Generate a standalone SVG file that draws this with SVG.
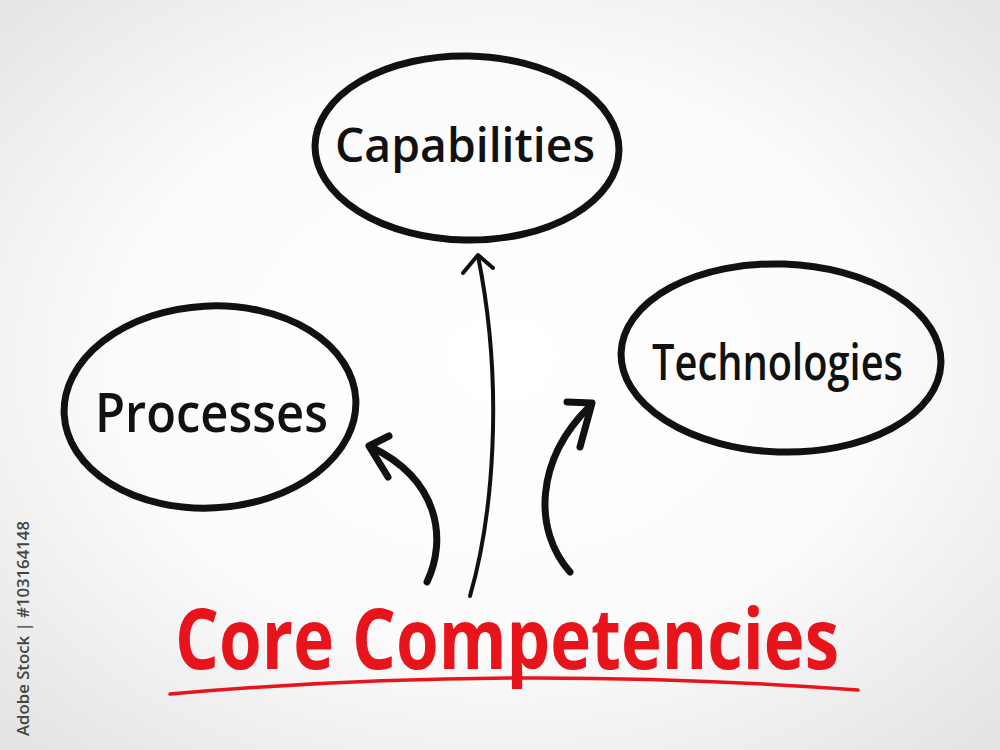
<svg xmlns="http://www.w3.org/2000/svg" width="1000" height="750" viewBox="0 0 1000 750">
  <defs>
    <radialGradient id="bg" cx="50%" cy="48%" r="70%">
      <stop offset="0" stop-color="#ffffff"/>
      <stop offset="0.55" stop-color="#fbfbfb"/>
      <stop offset="1" stop-color="#e4e4e4"/>
    </radialGradient>
  </defs>
  <style>
    .oval { fill: none; stroke: #111; stroke-width: 7; }
    .lbl { font-family: "Open Sans", "Liberation Sans", sans-serif; font-weight: 600; fill: #111; }
    .arr { fill: none; stroke: #111; stroke-linecap: round; stroke-linejoin: round; }
    .title { font-family: "Open Sans", "Liberation Sans", sans-serif; font-weight: 700; fill: #e8141c; }
  </style>
  <rect width="1000" height="750" fill="url(#bg)"/>

  <g id="credit">
    <text transform="translate(29,736) rotate(-90)" font-family="Open Sans, Liberation Sans, sans-serif" font-weight="600" font-size="17" fill="#444" textLength="215" lengthAdjust="spacingAndGlyphs">Adobe Stock | #103164148</text>
  </g>

  <g id="capabilities">
    <ellipse class="oval" cx="467" cy="148" rx="152" ry="92" transform="rotate(1 467 148)"/>
    <text class="lbl" x="335" y="162" font-size="47" textLength="260" lengthAdjust="spacingAndGlyphs">Capabilities</text>
  </g>

  <g id="processes">
    <ellipse class="oval" cx="210" cy="407" rx="146" ry="101" transform="rotate(-3 210 407)"/>
    <text class="lbl" x="95" y="432" font-size="54" textLength="233" lengthAdjust="spacingAndGlyphs">Processes</text>
  </g>

  <g id="technologies">
    <ellipse class="oval" cx="781" cy="358" rx="160" ry="94" transform="rotate(2 781 358)"/>
    <text class="lbl" x="652" y="380" font-size="50" textLength="251" lengthAdjust="spacingAndGlyphs">Technologies</text>
  </g>

  <g id="core">
    <text class="title" x="175" y="669" font-size="84" textLength="664" lengthAdjust="spacingAndGlyphs">Core Competencies</text>
    <path d="M170 694 Q510 664 858 690" fill="none" stroke="#e8141c" stroke-width="3.5" stroke-linecap="round"/>
  </g>

  <g id="connectors">
    <path class="arr" stroke-width="4" d="M470 596 C492 520 505 390 478 256"/>
    <path class="arr" stroke-width="4" d="M463 273 L478 255 L493 268"/>
    <path class="arr" stroke-width="7" d="M427 582 C447 540 440 480 371 447"/>
    <path class="arr" stroke-width="7" d="M389 436 L369 446 L388 477"/>
    <path class="arr" stroke-width="7" d="M570 572 C533 530 535 460 590 406"/>
    <path class="arr" stroke-width="7" d="M567 402 L592 403 L580 447"/>
  </g>
</svg>
